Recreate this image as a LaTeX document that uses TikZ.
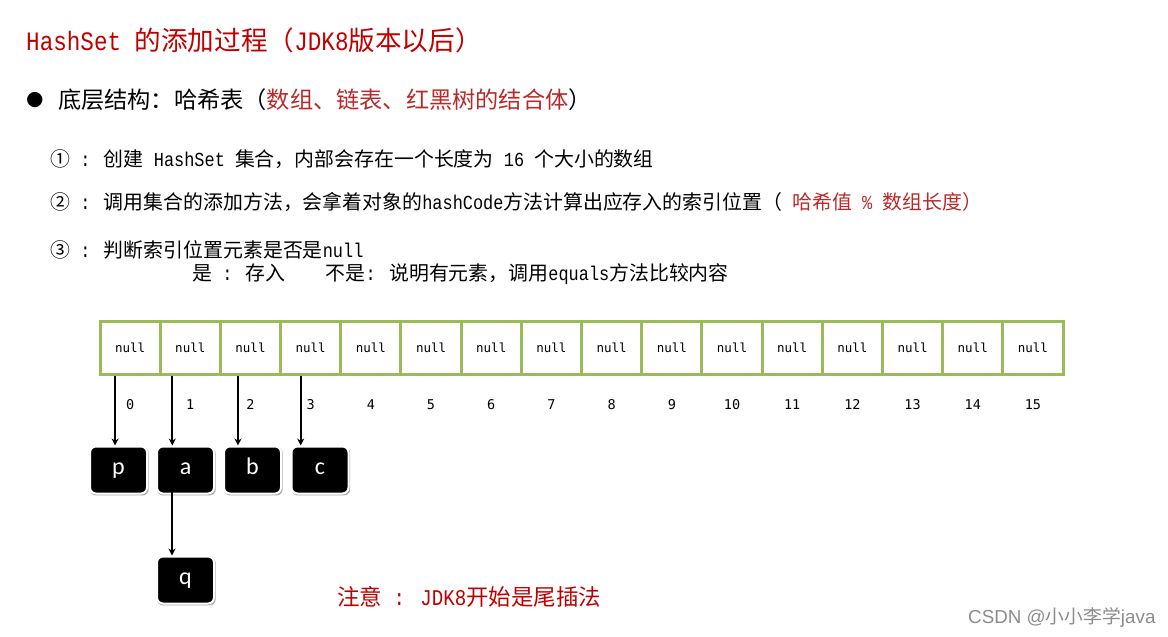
\documentclass[tikz,border=0pt]{standalone}
\usepackage{fontspec}
\setmainfont{Noto Sans CJK SC}
\newfontfamily\mono[FakeStretch=0.85]{Liberation Mono}
\newfontfamily\codefont{DejaVu Sans Mono}
\newfontfamily\boxfont{Carlito}
\newfontfamily\wmfont{Liberation Sans}
\usetikzlibrary{shadows,arrows.meta}
\definecolor{tred}{HTML}{C00000}
\definecolor{nred}{HTML}{B82A2A}
\definecolor{cellgreen}{HTML}{9BBB59}
\tikzset{
  txt/.style={anchor=west, inner sep=0pt, font=\fontsize{19.9}{22}\selectfont},
  cell/.style={draw=cellgreen, line width=3pt, minimum width=60.19pt, minimum height=53pt, inner sep=0pt, font=\codefont\fontsize{12.5}{14}\selectfont},
  idx/.style={inner sep=0pt, anchor=base, font=\codefont\fontsize{13.5}{14}\selectfont},
  elem/.style={fill=black, draw=white, line width=2pt, rounded corners=6pt, minimum width=57pt, minimum height=47pt, text=white,
    text height=12pt, text depth=4pt, font=\boxfont\fontsize{24}{26}\selectfont,
    drop shadow={shadow xshift=0.8pt, shadow yshift=-1.2pt, shadow scale=1.03, fill=black, opacity=0.35}},
  arr/.style={line width=2pt, -{Stealth[length=7pt,width=7pt]}},
}
\begin{document}
\begin{tikzpicture}[x=1pt,y=-1pt]
\useasboundingbox (0,0) rectangle (1168,637);
% title
\node[txt, text=tred, font=\fontsize{26.6}{30}\selectfont] (title) at (26,40) {{\mono HashSet }的添加过程（{\mono JDK8}版本以后）};
% bullet line
\node[inner sep=0pt, font=\fontsize{17}{18}\selectfont] (bul) at (35,100) {●};
\node[txt, font=\fontsize{23.2}{26}\selectfont] (struct) at (58,100) {底层结构：哈希表（\textcolor{nred}{数组、链表、红黑树的结合体}）};
% steps
\node[txt] (s1) at (50,159) {①{\mono{} : }创建{\mono{} HashSet }集合，内部会存在一个长度为{\mono{} 16 }个大小的数组};
\node[txt] (s2) at (50,202) {②{\mono{} : }调用集合的添加方法，会拿着对象的{\mono hashCode}方法计算出应存入的索引位置（\textcolor{nred}{{\mono{} }哈希值{\mono{} \% }数组长度）}};
\node[txt] (s3) at (50,250) {③{\mono{} : }判断索引位置元素是否是{\mono null}};
\node[txt] (s3b) at (192,274) {是{\mono{} : }存入\hspace{40pt}不是{\mono : }说明有元素，调用{\mono equals}方法比较内容};
% array
\foreach \i in {0,...,15}{
  \node[cell] (c\i) at ({130.1+60.19*\i},347.5) {null};
  \node[idx] (n\i) at ({130.1+60.19*\i},409) {\i};
}
% elements
\node[elem] (p) at (118.5,470) {p};
\node[elem] (a) at (185.5,470) {a};
\node[elem] (b) at (252.5,470) {b};
\node[elem] (c) at (320,470) {c};
\node[elem] (q) at (185.5,580) {q};
% arrows
\coordinate (t0) at ([xshift=-15pt]c0.south);
\coordinate (t1) at ([xshift=-18pt]c1.south);
\coordinate (t2) at ([xshift=-12.5pt]c2.south);
\coordinate (t3) at ([xshift=-10pt]c3.south);
\draw[arr] (t0) -- (t0 |- p.north);
\draw[arr] (t1) -- (t1 |- a.north);
\draw[arr] (t2) -- (t2 |- b.north);
\draw[arr] (t3) -- (t3 |- c.north);
\coordinate (aq) at ([xshift=-13.5pt,yshift=8pt]a.south);
\draw[arr] (aq) -- (aq |- q.north);
% note
\node[txt, text=tred, font=\fontsize{22.5}{26}\selectfont] (note) at (337,597) {注意{\mono{} : }{\mono JDK8}开始是尾插法};
% watermark
\node[txt, text=black!45, font=\wmfont\fontsize{18.8}{21}\selectfont] (wm) at (968,617) {CSDN @{\rmfamily 小小李学}java};
\end{tikzpicture}
\end{document}
